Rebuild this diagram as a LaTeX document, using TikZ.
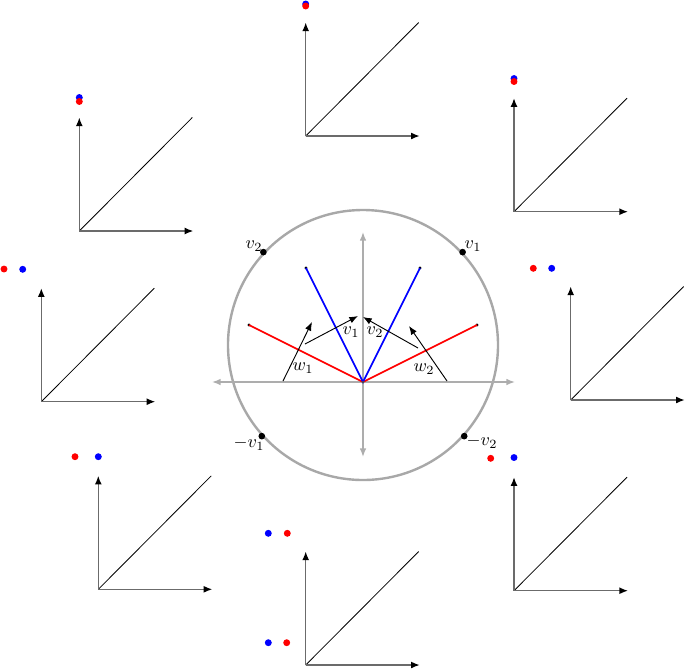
\documentclass[tikz,border=0pt]{standalone}
\usetikzlibrary{arrows.meta}
\definecolor{axgray}{gray}{0.68}
\definecolor{circgray}{gray}{0.66}
\definecolor{plotax}{gray}{0.42}
\tikzset{
  plotaxis/.style={draw=plotax, line width=1.0pt, -{Latex[length=6.5pt,width=5.2pt,color=black]}},
  plotdiag/.style={draw=black, line width=0.6pt},
  cdot/.style={circle, inner sep=0pt, minimum size=5.2pt},
  reddot/.style={cdot, fill=red},
  bluedot/.style={cdot, fill=blue},
  blackdot/.style={circle, fill=black, inner sep=0pt, minimum size=5pt},
  tinydot/.style={circle, fill=black, inner sep=0pt, minimum size=2.4pt},
  mainaxis/.style={draw=axgray, line width=1.1pt, {Latex[length=6.5pt,width=5pt]}-{Latex[length=6.5pt,width=5pt]}},
  vecarrow/.style={draw=black, line width=0.7pt, -{Latex[length=6.5pt,width=5pt]}},
  lab/.style={inner sep=1pt, scale=1.35},
}
\newcommand\miniplot[3]{%
  \coordinate (#1o) at (#2,#3);
  \coordinate (#1x) at (#2+114,#3);
  \coordinate (#1y) at (#2,#3-113.5);
  \coordinate (#1d) at (#2+113,#3-113.5);
  \draw[plotdiag] (#1o) -- (#1d);
  \draw[plotaxis] (#1o) -- (#1x);
  \draw[plotaxis] (#1o) -- (#1y);
}
\begin{document}
\begin{tikzpicture}[x=0.75pt,y=-0.75pt]
\useasboundingbox (0,0) rectangle (685,669);

% small plots
\miniplot{TM}{305.7}{136}
\miniplot{TL}{79.3}{231}
\miniplot{TR}{514}{211.7}
\miniplot{L}{41.3}{401.7}
\miniplot{R}{570.7}{400}
\miniplot{BL}{98.3}{589.3}
\miniplot{BR}{514}{590.7}
\miniplot{BM}{305.7}{665}

% dots of the small plots
\node[bluedot] (TMb) at (305.7,4) {};
\node[reddot]  (TMr) at (305.7,6) {};
\node[bluedot] (TLb) at (79.3,97.5) {};
\node[reddot]  (TLr) at (79.3,101.5) {};
\node[bluedot] (TRb) at (514,78.5) {};
\node[reddot]  (TRr) at (514,81.5) {};
\node[reddot]  (Lr) at (4,269) {};
\node[bluedot] (Lb) at (22.7,269.3) {};
\node[reddot]  (Rr) at (533.3,268.3) {};
\node[bluedot] (Rb) at (551.7,268.3) {};
\node[reddot]  (BLr) at (75,456.7) {};
\node[bluedot] (BLb) at (98.3,456.7) {};
\node[reddot]  (BRr) at (490.7,458.3) {};
\node[bluedot] (BRb) at (514,457.5) {};
\node[bluedot] (BMb1) at (268.3,533.3) {};
\node[reddot]  (BMr1) at (287.3,533.3) {};
\node[bluedot] (BMb2) at (268.3,642.7) {};
\node[reddot]  (BMr2) at (286.7,642.7) {};

% central circle
\node[circle, draw=circgray, line width=1.8pt, minimum size=202.5pt, inner sep=0pt] (circ) at (363,345) {};

% central axes
\coordinate (O) at (363,382);
\coordinate (axL) at (212,382);
\coordinate (axR) at (515,382);
\coordinate (axT) at (363,232);
\coordinate (axB) at (363,457);
\draw[mainaxis] (axL) -- (axR);
\draw[mainaxis] (axT) -- (axB);

% red and blue vectors
\node[tinydot] (rL) at (249,325) {};
\node[tinydot] (rR) at (477,325) {};
\node[tinydot] (bL) at (306,268) {};
\node[tinydot] (bR) at (420,268) {};
\draw[red, line width=1.3pt] (rL.center) -- (O) -- (rR.center);
\draw[blue, line width=1.3pt] (bL.center) -- (O) -- (bR.center);
\node[circle, fill=black!70, inner sep=0pt, minimum size=2pt] (Od) at (O) {};

% black arrows
\coordinate (w1s) at (283,381);
\coordinate (w1e) at (312,322);
\coordinate (v1s) at (305,344);
\coordinate (v1e) at (358,316);
\coordinate (v2s) at (418,348);
\coordinate (v2e) at (363,317);
\coordinate (w2s) at (447,381);
\coordinate (w2e) at (409,326);
\draw[vecarrow] (w1s) -- (w1e);
\draw[vecarrow] (v1s) -- (v1e);
\draw[vecarrow] (v2s) -- (v2e);
\draw[vecarrow] (w2s) -- (w2e);
\node[lab] (lw1) at (303,368) {$w_1$};
\node[lab] (lv1) at (351,332) {$v_1$};
\node[lab] (lv2) at (375,332) {$v_2$};
\node[lab] (lw2) at (424,369) {$w_2$};

% points on the circle
\node[blackdot] (pv1) at (circ.43) {};
\node[blackdot] (pv2) at (circ.137) {};
\node[blackdot] (pmv1) at (circ.222) {};
\node[blackdot] (pmv2) at (circ.318) {};
\node[lab] (lpv2) at (254,246) {$v_2$};
\node[lab] (lpv1) at (473,246) {$v_1$};
\node[lab] (lpmv1) at (249,444) {$-v_1$};
\node[lab] (lpmv2) at (482,442) {$-v_2$};
\end{tikzpicture}
\end{document}
